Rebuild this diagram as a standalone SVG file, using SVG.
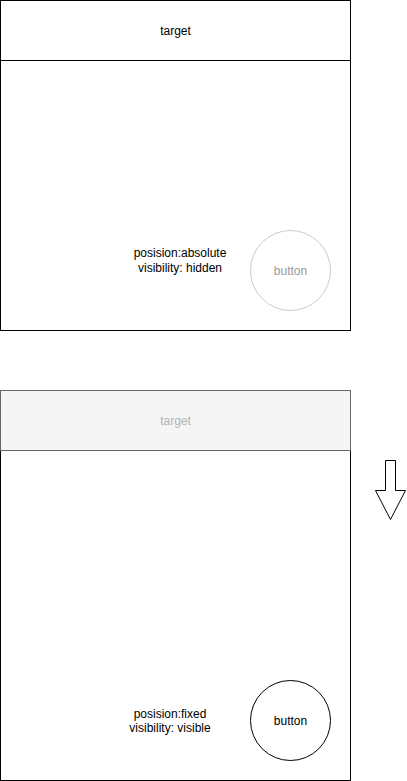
<svg xmlns="http://www.w3.org/2000/svg" width="407" height="781" viewBox="0 0 407 781">
<style>
text{font-family:"Liberation Sans",Arial,sans-serif;font-size:12px;text-anchor:middle}
.box{fill:#ffffff;stroke:#000000;stroke-width:1}
.faded{fill:#f5f5f5;stroke:#666666;stroke-width:1}
.grey{fill:#999999}
.dark{fill:#000000}
</style>
<rect width="407" height="781" fill="#ffffff"/>
<g id="top-body"><rect class="box" x="0.5" y="60.5" width="350" height="270"/></g>
<g id="top-header"><rect class="box" x="0.5" y="0.5" width="350" height="60"/><text class="dark" x="175.5" y="34.5">target</text></g>
<g id="top-label"><text class="dark" x="180" y="257">posision:absolute</text><text class="dark" x="180" y="271.5">visibility: hidden</text></g>
<g id="top-button"><circle cx="290.5" cy="270.5" r="40" fill="#ffffff" stroke="#cccccc"/><text class="grey" x="290.5" y="274.5">button</text></g>
<g id="bottom-body"><rect class="box" x="0.5" y="450.5" width="350" height="330"/></g>
<g id="bottom-header"><rect class="faded" x="0.5" y="390.5" width="350" height="60"/><text x="175.5" y="424.5" fill="#b3b3b3">target</text></g>
<g id="bottom-label"><text class="dark" x="170" y="717.5">posision:fixed</text><text class="dark" x="170" y="732">visibility: visible</text></g>
<g id="bottom-button"><circle cx="290.5" cy="720.5" r="40" fill="#ffffff" stroke="#000000"/><text class="dark" x="290.5" y="724.5">button</text></g>
<g id="connectors"><path d="M385.5 460.5 H395.5 V490.5 H405.5 L390.5 519.5 L375.5 490.5 H385.5 Z" fill="#ffffff" stroke="#000000"/></g>
</svg>
